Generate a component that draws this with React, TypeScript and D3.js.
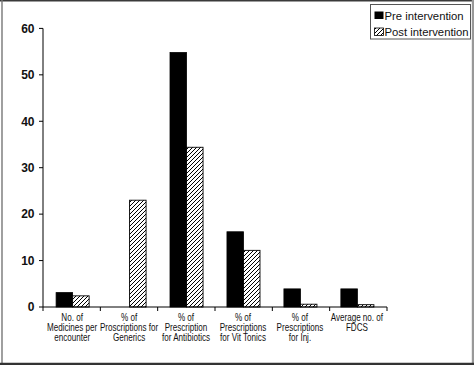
import React from "react";
import * as d3 from "d3";

const categories: string[][] = [
  ["No. of", "Medicines per", "encounter"],
  ["% of", "Proscriptions for", "Generics"],
  ["% of", "Prescription", "for Antibiotics"],
  ["% of", "Prescriptions", "for Vit Tonics"],
  ["% of", "Prescriptions", "for Inj."],
  ["Average no. of", "FDCS"],
];
const preValues = [3.1, 0, 54.8, 16.2, 3.9, 3.9];
const postValues = [2.4, 23, 34.4, 12.2, 0.6, 0.5];
const seriesNames = ["Pre intervention", "Post intervention"];
const yTicks = [0, 10, 20, 30, 40, 50, 60];

const W = 474;
const H = 365;
const FONT = "'Liberation Sans', Arial, sans-serif";

export default function App() {
  const left = 43;
  const right = 387;
  const top = 28.4;
  const bottom = 307;
  const y = d3.scaleLinear().domain([0, 60]).range([bottom, top]);
  const idx = categories.map((_, i) => String(i));
  const x0 = d3.scaleBand().domain(idx).range([left, right]).paddingInner(0.42).paddingOuter(0.23);
  const x1 = d3.scaleBand().domain(["pre", "post"]).range([0, x0.bandwidth()]);
  const boundaries = d3.range(categories.length + 1).map((i) => left + i * ((right - left) / categories.length));

  return (
    <svg width={W} height={H} style={{ position: "absolute", left: 0, top: 0, background: "#fff" }}>
      <defs>
        <pattern id="hatch" patternUnits="userSpaceOnUse" width="4" height="4">
          <rect width="4" height="4" fill="#fff" />
          <path d="M-1,1 l2,-2 M0,4 l4,-4 M3,5 l2,-2" stroke="#000" strokeWidth="1" />
        </pattern>
      </defs>
      <rect x={0} y={0} width={W} height={H} fill="#fff" />
      {/* frame */}
      <line x1={0} x2={W} y1={0.8} y2={0.8} stroke="#3a3a3a" strokeWidth={1.6} />
      <line x1={2} x2={2} y1={0} y2={H} stroke="#777" strokeWidth={1.4} />
      <line x1={473} x2={473} y1={0} y2={H} stroke="#999" strokeWidth={2.4} />
      <line x1={0} x2={W} y1={364} y2={364} stroke="#333" strokeWidth={2.6} />

      {/* bars */}
      {categories.map((_, i) => {
        const gx = x0(String(i))!;
        return (
          <g key={i}>
            {preValues[i] > 0 && (
              <rect x={gx + x1("pre")!} y={y(preValues[i])} width={x1.bandwidth()} height={bottom - y(preValues[i])} fill="#000" stroke="#000" strokeWidth={0.8} />
            )}
            {postValues[i] > 0 && (
              <rect x={gx + x1("post")!} y={y(postValues[i])} width={x1.bandwidth()} height={bottom - y(postValues[i])} fill="url(#hatch)" stroke="#000" strokeWidth={0.9} />
            )}
          </g>
        );
      })}

      {/* y axis */}
      <line x1={left} x2={left} y1={top} y2={bottom} stroke="#000" strokeWidth={1} />
      {yTicks.map((t) => (
        <g key={t}>
          <line x1={left - 4} x2={left} y1={y(t)} y2={y(t)} stroke="#000" strokeWidth={1} />
          <text x={34.5} y={y(t)} dy="0.36em" textAnchor="end" fontFamily={FONT} fontSize={12} fontWeight="bold" fill="#111">
            {t}
          </text>
        </g>
      ))}

      {/* x axis */}
      <line x1={left} x2={right} y1={bottom} y2={bottom} stroke="#000" strokeWidth={1} />
      {boundaries.map((b, i) => (
        <line key={i} x1={b} x2={b} y1={bottom} y2={bottom + 4} stroke="#000" strokeWidth={1} />
      ))}
      {categories.map((lines, i) => {
        const cx = x0(String(i))! + x0.bandwidth() / 2 - 0.5;
        return (
          <text key={i} transform={`translate(${cx},320.8) scale(0.77,1)`} textAnchor="middle" fontFamily={FONT} fontSize={10.5} fill="#111">
            {lines.map((l, j) => (
              <tspan key={j} x={0} y={j * 10}>
                {l}
              </tspan>
            ))}
          </text>
        );
      })}

      {/* legend */}
      <rect x={370.5} y={4.5} width={100} height={34.5} fill="#fff" stroke="#555" strokeWidth={1} />
      <rect x={374.5} y={11.5} width={9} height={7.5} fill="#000" />
      <rect x={374.5} y={28} width={9} height={7.5} fill="url(#hatch)" stroke="#000" strokeWidth={0.8} />
      <text x={384.5} y={19.5} fontFamily={FONT} fontSize={11.3} fill="#111">
        {seriesNames[0]}
      </text>
      <text x={384.5} y={36} fontFamily={FONT} fontSize={11.3} fill="#111">
        {seriesNames[1]}
      </text>
    </svg>
  );
}
